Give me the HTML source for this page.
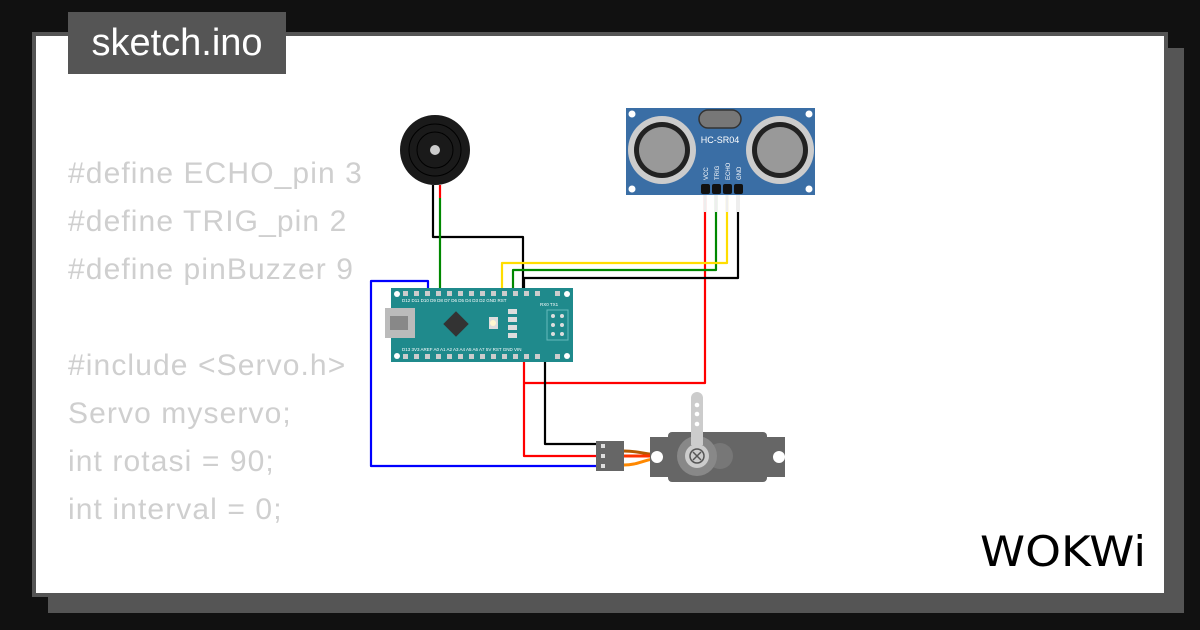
<!DOCTYPE html>
<html><head><meta charset="utf-8"><style>
html,body{margin:0;padding:0;background:#111;width:1200px;height:630px;overflow:hidden}
#s{position:absolute;left:48px;top:48px;width:1136px;height:565px;background:#555}
#g{position:absolute;left:32px;top:32px;width:1136px;height:565px;background:#555}
#w{position:absolute;left:36px;top:36px;width:1128px;height:557px;background:#fff;overflow:hidden}
#lbl{position:absolute;left:68px;top:12px;width:218px;height:62px;background:#555;color:#fff;font:38px "Liberation Sans",sans-serif;line-height:62px;text-align:center}
#code{position:absolute;left:32px;top:114px;font:30px "Liberation Sans",sans-serif;letter-spacing:1.1px;color:#cfcfcf;line-height:48px;white-space:pre}
svg{position:absolute;left:0;top:0}
</style></head><body>
<div id="s"></div>
<div id="g"></div>
<div id="w"><div id="code">#define ECHO_pin 3
#define TRIG_pin 2
#define pinBuzzer 9

#include &lt;Servo.h&gt;
Servo myservo;
int rotasi = 90;
int interval = 0;

float readDistanceCM() {</div></div>
<div id="lbl">sketch.ino</div>
<svg width="1200" height="630" viewBox="0 0 1200 630">
<rect x="626" y="108" width="189" height="87" fill="#3a6ea5"/>
<g fill="#fff"><circle cx="632" cy="114" r="3.5"/><circle cx="809" cy="114" r="3.5"/><circle cx="632" cy="189" r="3.5"/><circle cx="809" cy="189" r="3.5"/></g>
<rect x="699" y="110" width="42" height="18" rx="9" fill="#777" stroke="#333" stroke-width="1.5"/>
<g><circle cx="662" cy="150" r="34" fill="#ccc"/><circle cx="662" cy="150" r="28" fill="#222"/><circle cx="662" cy="150" r="23" fill="#999"/>
<circle cx="780" cy="150" r="34" fill="#ccc"/><circle cx="780" cy="150" r="28" fill="#222"/><circle cx="780" cy="150" r="23" fill="#999"/></g>
<text x="720" y="143" font-family="Liberation Sans,sans-serif" font-size="9" fill="#fff" text-anchor="middle">HC-SR04</text>
<g font-family="Liberation Sans,sans-serif" font-size="6" fill="#fff">
<text transform="translate(708,180) rotate(-90)">VCC</text><text transform="translate(719,180) rotate(-90)">TRIG</text><text transform="translate(730,180) rotate(-90)">ECHO</text><text transform="translate(741,180) rotate(-90)">GND</text></g>
<g fill="#111"><rect x="701" y="184" width="9" height="10" rx="2"/><rect x="712" y="184" width="9" height="10" rx="2"/><rect x="723" y="184" width="9" height="10" rx="2"/><rect x="734" y="184" width="9" height="10" rx="2"/></g>
<circle cx="435" cy="150" r="35" fill="#1a1a1a"/><circle cx="435" cy="150" r="26" fill="none" stroke="#000"/><circle cx="435" cy="150" r="18" fill="none" stroke="#000"/><circle cx="435" cy="150" r="5" fill="#ccc"/>
<g fill="none" stroke-width="2.2" stroke-linejoin="round">
<path d="M433 185 V237 H523 V293" stroke="#000"/>
<path d="M440 185 V198" stroke="#f00"/>
<path d="M440 198 V293" stroke="#080"/>
<path d="M705 195 V383 H524" stroke="#f00"/>
<path d="M716 195 V270 H513 V293" stroke="#080"/>
<path d="M727 195 V263 H502 V293" stroke="#fd0"/>
<path d="M738 195 V278 H524 V293" stroke="#000"/>
<path d="M428 293 V281 H371 V466 H600" stroke="#00f"/>
<path d="M524 355 V456 H600" stroke="#f00"/>
<path d="M545 355 V444 H600" stroke="#000"/>
<g stroke="#eee" stroke-width="2.5"><path d="M705 195 V212"/><path d="M716 195 V212"/><path d="M727 195 V212"/><path d="M738 195 V212"/></g>
</g>
<rect x="391" y="288" width="182" height="74" fill="#1f8a8c"/>
<g fill="#fff"><circle cx="397" cy="294" r="3"/><circle cx="567" cy="294" r="3"/><circle cx="397" cy="356" r="3"/><circle cx="567" cy="356" r="3"/></g>
<g fill="#ccc">
<rect x="403" y="291" width="5" height="5"/><rect x="414" y="291" width="5" height="5"/><rect x="425" y="291" width="5" height="5"/><rect x="436" y="291" width="5" height="5"/><rect x="447" y="291" width="5" height="5"/><rect x="458" y="291" width="5" height="5"/><rect x="469" y="291" width="5" height="5"/><rect x="480" y="291" width="5" height="5"/><rect x="491" y="291" width="5" height="5"/><rect x="502" y="291" width="5" height="5"/><rect x="513" y="291" width="5" height="5"/><rect x="524" y="291" width="5" height="5"/><rect x="535" y="291" width="5" height="5"/><rect x="555" y="291" width="5" height="5"/>
<rect x="403" y="354" width="5" height="5"/><rect x="414" y="354" width="5" height="5"/><rect x="425" y="354" width="5" height="5"/><rect x="436" y="354" width="5" height="5"/><rect x="447" y="354" width="5" height="5"/><rect x="458" y="354" width="5" height="5"/><rect x="469" y="354" width="5" height="5"/><rect x="480" y="354" width="5" height="5"/><rect x="491" y="354" width="5" height="5"/><rect x="502" y="354" width="5" height="5"/><rect x="513" y="354" width="5" height="5"/><rect x="524" y="354" width="5" height="5"/><rect x="535" y="354" width="5" height="5"/><rect x="555" y="354" width="5" height="5"/>
</g>
<g font-family="Liberation Sans,sans-serif" font-size="4.5" fill="#fff"><text x="402" y="302">D12 D11 D10 D9 D8 D7 D6 D5 D4 D3 D2 GND RST</text><text x="402" y="351">D13 3V3 AREF A0 A1 A2 A3 A4 A5 A6 A7 5V RST GND VIN</text><text x="540" y="306">RX0 TX1</text></g>
<rect x="385" y="308" width="30" height="30" fill="#bbb"/><rect x="390" y="316" width="18" height="14" fill="#888"/>
<rect x="447" y="315" width="18" height="18" fill="#333" transform="rotate(45 456 324)"/>
<rect x="489" y="317" width="9" height="12" fill="#ddd"/><circle cx="493" cy="323" r="3" fill="#fff8d0"/>
<g fill="#ddd"><rect x="508" y="309" width="9" height="5"/><rect x="508" y="317" width="9" height="5"/><rect x="508" y="325" width="9" height="5"/><rect x="508" y="333" width="9" height="5"/></g>
<rect x="547" y="310" width="21" height="30" fill="none" stroke="#6bb" />
<g fill="#ddd"><circle cx="553" cy="316" r="2"/><circle cx="562" cy="316" r="2"/><circle cx="553" cy="325" r="2"/><circle cx="562" cy="325" r="2"/><circle cx="553" cy="334" r="2"/><circle cx="562" cy="334" r="2"/></g>
<path d="M624 451 C640 451 645 455 665 455" stroke="#b55a00" stroke-width="3" fill="none"/>
<path d="M624 456 H665" stroke="#f30" stroke-width="3"/>
<path d="M624 465 C640 465 645 458 665 458" stroke="#f80" stroke-width="3" fill="none"/>
<rect x="596" y="441" width="28" height="30" fill="#666"/>
<g fill="#ddd"><rect x="601" y="444" width="4" height="4"/><rect x="601" y="454" width="4" height="4"/><rect x="601" y="464" width="4" height="4"/></g>
<rect x="650" y="437" width="135" height="40" fill="#666"/>
<circle cx="657" cy="457" r="6" fill="#fff"/><circle cx="779" cy="457" r="6" fill="#fff"/>
<rect x="668" y="432" width="99" height="50" rx="4" fill="#666"/>
<circle cx="720" cy="456" r="13" fill="#777"/>
<circle cx="697" cy="456" r="20" fill="#888"/>
<path d="M691 398 a6 6 0 0 1 12 0 L703 445 L691 445 Z" fill="#ccc"/>
<circle cx="697" cy="456" r="12" fill="#ccc"/>
<g fill="#fff"><circle cx="697" cy="405" r="2.3"/><circle cx="697" cy="414" r="2.3"/><circle cx="697" cy="424" r="2.3"/></g>
<circle cx="697" cy="456" r="7" fill="none" stroke="#555" stroke-width="1.5"/>
<path d="M693 452 L701 460 M701 452 L693 460" stroke="#555" stroke-width="1.5"/>
<text x="1063" y="566" font-family="DejaVu Sans,sans-serif" font-size="42" fill="#000" text-anchor="middle" textLength="166" lengthAdjust="spacingAndGlyphs">WOKWi</text>
</svg>
</body></html>
